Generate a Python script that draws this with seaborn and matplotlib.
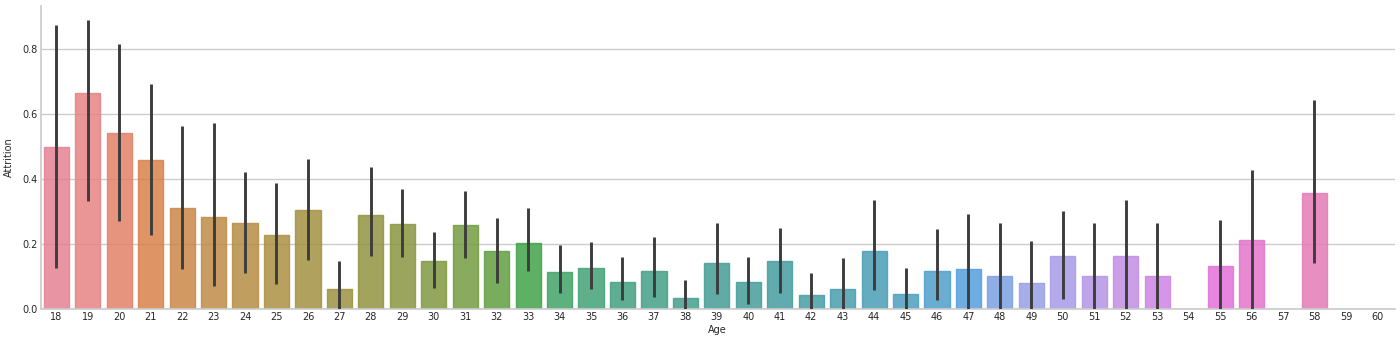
import numpy as np
import pandas as pd
import matplotlib
matplotlib.use("Agg")
import matplotlib.pyplot as plt
import seaborn as sns

ages = list(range(18, 61))
attrition = [0.500, 0.667, 0.543, 0.458, 0.312, 0.285, 0.266, 0.230, 0.305, 0.062,
             0.289, 0.262, 0.148, 0.258, 0.178, 0.205, 0.115, 0.126, 0.085, 0.117,
             0.034, 0.142, 0.085, 0.148, 0.044, 0.062, 0.178, 0.046, 0.117, 0.123,
             0.103, 0.082, 0.164, 0.103, 0.164, 0.103, 0.000, 0.133, 0.212, 0.000,
             0.357, 0.000, 0.000]
ci_low = [0.126, 0.332, 0.273, 0.229, 0.125, 0.072, 0.113, 0.077, 0.152, 0.000,
          0.164, 0.161, 0.066, 0.158, 0.080, 0.119, 0.049, 0.062, 0.029, 0.039,
          0.000, 0.046, 0.016, 0.049, 0.000, 0.000, 0.058, 0.000, 0.029, 0.000,
          0.000, 0.000, 0.032, 0.000, 0.000, 0.000, 0.000, 0.000, 0.000, 0.000,
          0.142, 0.000, 0.000]
ci_high = [0.875, 0.889, 0.818, 0.694, 0.565, 0.573, 0.423, 0.388, 0.463, 0.150,
           0.439, 0.369, 0.237, 0.363, 0.282, 0.313, 0.198, 0.207, 0.162, 0.223,
           0.089, 0.264, 0.162, 0.251, 0.111, 0.159, 0.336, 0.126, 0.246, 0.294,
           0.264, 0.210, 0.304, 0.264, 0.336, 0.264, 0.000, 0.276, 0.429, 0.000,
           0.644, 0.000, 0.000]

df = pd.DataFrame({"Age": [str(a) for a in ages], "Attrition": attrition})

sns.set_theme(style="whitegrid")
plt.rcParams['font.family'] = ['DejaVu Sans']

fig, ax = plt.subplots(figsize=(14, 3.44), dpi=100)
fig.subplots_adjust(left=0.029, right=0.9964, top=0.9826, bottom=0.101)

palette = sns.color_palette("husl", len(ages))
sns.barplot(data=df, x="Age", y="Attrition", hue="Age", palette=palette,
            legend=False, errorbar=None, saturation=0.75, alpha=0.85,
            linewidth=1, ax=ax)
for patch in ax.patches:
    fc = patch.get_facecolor()
    patch.set_edgecolor((fc[0], fc[1], fc[2], 1.0))

xpos = np.arange(len(ages))
lo = np.array(attrition) - np.array(ci_low)
hi = np.array(ci_high) - np.array(attrition)
ax.errorbar(xpos, attrition, yerr=[lo, hi], fmt="none", ecolor="#3d3d3d",
            elinewidth=2.1, capsize=0, zorder=5)

ax.set_xlim(-0.5, len(ages) - 0.44)
ax.set_ylim(0, 0.9336)
ax.set_yticks([0.0, 0.2, 0.4, 0.6, 0.8])
ax.tick_params(axis="both", labelsize=7, pad=2, length=0)
ax.set_xlabel("Age", fontsize=7, labelpad=2)
ax.set_ylabel("Attrition", fontsize=7, labelpad=6)
ax.grid(axis="x", visible=False)
sns.despine(ax=ax)
for s in ["left", "bottom"]:
    ax.spines[s].set_color("#cccccc")

fig.savefig("out.png", dpi=100)
